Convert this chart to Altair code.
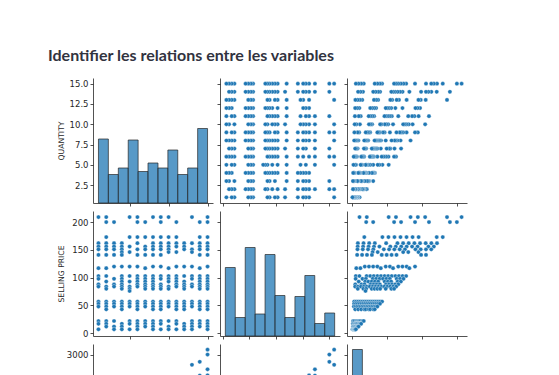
import altair as alt
import pandas as pd

TITLE = "Identifier les relations entre les variables"

QUANTITY_LEVELS = [1, 2, 3, 4, 5, 6, 7, 8, 9, 10, 11, 12, 13, 14, 15]
PRICES_BY_QUANTITY = [
    [209, 162, 156, 151, 141, 117, 103, 98, 88, 84, 57, 53, 48, 22, 17, 7],
    [209, 200, 173, 162, 156, 151, 141, 117, 103, 93, 84, 80, 57, 53, 48, 43, 22, 17, 12],
    [200, 162, 156, 151, 141, 120, 98, 88, 84, 57, 53, 48, 22, 12, 7],
    [162, 156, 151, 146, 141, 120, 103, 98, 93, 88, 84, 80, 57, 53, 48, 43, 17, 12, 7],
    [209, 173, 156, 146, 120, 103, 93, 84, 80, 76, 57, 53, 48, 22, 17, 7],
    [209, 200, 173, 162, 151, 141, 120, 103, 98, 93, 88, 84, 57, 53, 48, 43, 22, 17, 12, 7],
    [200, 173, 156, 151, 141, 117, 103, 98, 93, 88, 84, 80, 57, 53, 48, 22, 17, 12],
    [209, 173, 162, 156, 151, 141, 120, 103, 98, 93, 88, 84, 80, 57, 53, 48, 43, 22, 17, 12, 7],
    [209, 200, 173, 162, 156, 151, 141, 120, 103, 98, 88, 84, 80, 57, 53, 48, 43, 22, 17, 7],
    [209, 173, 162, 156, 151, 146, 117, 103, 98, 93, 84, 80, 57, 53, 48, 22, 12, 7],
    [200, 173, 162, 156, 146, 120, 103, 98, 93, 88, 84, 57, 53, 48, 43, 22, 17, 7],
    [162, 156, 151, 120, 103, 93, 88, 84, 80, 57, 53, 48, 43, 17, 12, 7],
    [209, 162, 151, 146, 120, 103, 98, 88, 84, 57, 53, 48, 22, 17, 12, 7],
    [200, 173, 162, 156, 151, 141, 117, 103, 98, 93, 88, 84, 80, 57, 53, 48, 43, 22, 17, 12],
    [209, 200, 173, 162, 156, 151, 141, 120, 103, 98, 93, 88, 84, 80, 57, 53, 48, 43, 22, 17, 12, 7],
]

QTY_BIN_START = [1.0, 2.27, 3.55, 4.82, 6.09, 7.36, 8.64, 9.91, 11.18, 12.45, 13.73]
QTY_BIN_END = [2.27, 3.55, 4.82, 6.09, 7.36, 8.64, 9.91, 11.18, 12.45, 13.73, 15.0]
QTY_COUNTS = [128, 57, 70, 126, 63, 80, 70, 106, 57, 70, 149]

PRICE_BIN_START = [5.0, 23.6, 42.3, 60.9, 79.5, 98.2, 116.8, 135.5, 154.1, 172.7, 191.4]
PRICE_BIN_END = [23.6, 42.3, 60.9, 79.5, 98.2, 116.8, 135.5, 154.1, 172.7, 191.4, 210.0]
PRICE_COUNTS = [137, 37, 177, 44, 163, 81, 37, 79, 121, 25, 46]

TOTAL_BIN_START = [7, 291, 576, 860, 1144, 1429, 1713, 1998, 2282, 2566, 2851]
TOTAL_BIN_END = [291, 576, 860, 1144, 1429, 1713, 1998, 2282, 2566, 2851, 3135]
TOTAL_COUNTS = [239, 170, 140, 110, 85, 65, 50, 45, 40, 25, 15]

BLUE = "#1f77b4"
INK = "#262626"
W, H = 120, 125

rows = []
for q, plist in zip(QUANTITY_LEVELS, PRICES_BY_QUANTITY):
    for p in plist:
        rows.append({"qty": q, "price": p})
df = pd.DataFrame(rows)
df["total"] = df["qty"] * df["price"]

VARS = [
    dict(field="qty", title="QUANTITY", domain=[0.3, 15.7],
         yticks=[2.5, 5, 7.5, 10, 12.5, 15], xticks=[5, 10, 15], fmt=".1f",
         hist=(QTY_BIN_START, QTY_BIN_END, QTY_COUNTS)),
    dict(field="price", title="SELLING PRICE", domain=[-5, 220],
         yticks=[0, 50, 100, 150, 200], xticks=[0, 50, 100, 150, 200], fmt="d",
         hist=(PRICE_BIN_START, PRICE_BIN_END, PRICE_COUNTS)),
    dict(field="total", title="TOTAL", domain=[-150, 3290],
         yticks=[0, 1000, 2000, 3000], xticks=[0, 1000, 2000, 3000], fmt="d",
         hist=(TOTAL_BIN_START, TOTAL_BIN_END, TOTAL_COUNTS)),
]


def xenc(v, field=None):
    return alt.X(
        f"{field or v['field']}:Q",
        scale=alt.Scale(domain=v["domain"], nice=False, zero=False),
        axis=alt.Axis(values=v["xticks"], labels=False),
        title=None,
    )


def yenc(v, left):
    if left:
        ax = alt.Axis(values=v["yticks"], format=v["fmt"], orient="left",
                      minExtent=25, maxExtent=25, titlePadding=3)
    else:
        ax = alt.Axis(values=v["yticks"], labels=False, orient="left",
                      minExtent=3, maxExtent=3)
    return alt.Y(
        f"{v['field']}:Q",
        scale=alt.Scale(domain=v["domain"], nice=False, zero=False),
        axis=ax,
        title=v["title"] if left else None,
    )


def panel(r, c):
    xv, yv = VARS[c], VARS[r]
    left = c == 0
    if r != c:
        return alt.Chart(df).mark_circle(
            size=18, color=BLUE, opacity=1, stroke="white", strokeWidth=0.35
        ).encode(x=xenc(xv), y=yenc(yv, left)).properties(width=W, height=H)
    s, e, n = xv["hist"]
    hdf = pd.DataFrame({"start": s, "end": e, "count": n})
    bars = alt.Chart(hdf).mark_rect(
        color=BLUE, fillOpacity=0.75, stroke=INK, strokeWidth=0.7
    ).encode(
        x=xenc(xv, field="start"),
        x2="end:Q",
        y=alt.Y("count:Q", scale=alt.Scale(domain=[0, 250]), axis=None),
        y2=alt.datum(0),
    )
    dummy = alt.Chart(df).mark_point(opacity=0).encode(
        x=xenc(xv), y=yenc(yv, left)
    )
    return alt.layer(bars, dummy).resolve_scale(y="independent").properties(width=W, height=H)


grid = alt.vconcat(
    *[alt.hconcat(*[panel(r, c) for c in range(3)], spacing=3) for r in range(3)],
    spacing=4,
).properties(
    title=alt.TitleParams(
        TITLE, anchor="start", font="Lato", fontSize=16, fontWeight="bold",
        color="#31333F", dx=-9, offset=14,
    ),
    padding={"left": 40, "top": 40, "right": 5, "bottom": 5},
)

chart = grid.configure_view(strokeWidth=0).configure_axis(
    grid=False, domainColor=INK, tickColor=INK, labelColor=INK,
    labelFont="DejaVu Sans", labelFontSize=8.5, titleFont="DejaVu Sans",
    titleFontSize=7.7, titleFontWeight="normal", titleColor=INK,
    tickSize=3, labelPadding=2, domainWidth=0.8, tickWidth=0.8,
)

chart.save("out.html", embed_options={"renderer": "svg", "actions": False})
